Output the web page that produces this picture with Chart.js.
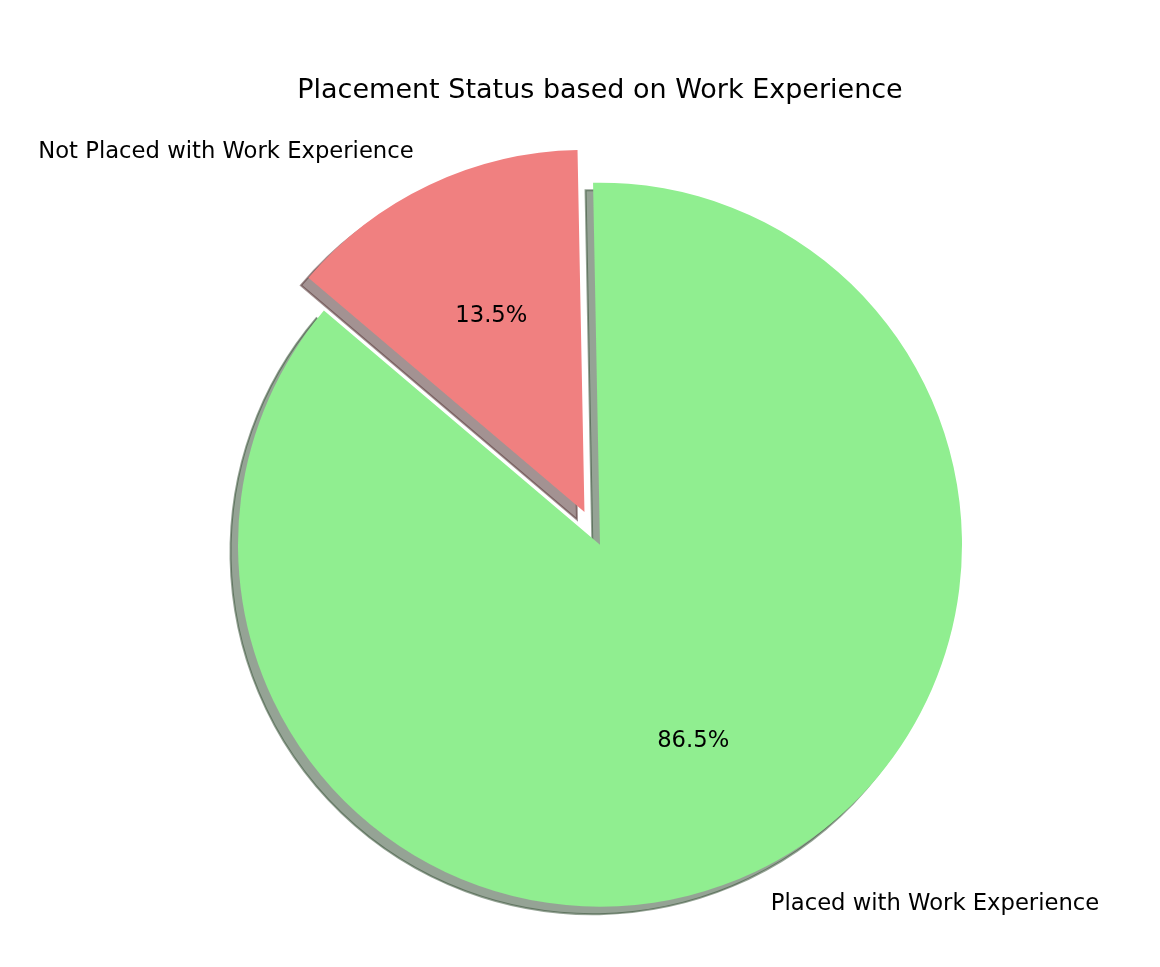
<!DOCTYPE html>
<html>
<head>
<meta charset="utf-8">
<script src="https://cdn.jsdelivr.net/npm/chart.js@4.4.0/dist/chart.umd.min.js"></script>
<style>
  html, body { margin: 0; padding: 0; background: #fff; }
  #wrap { width: 1160px; height: 967px; position: relative; }
</style>
</head>
<body>
<div id="wrap"><canvas id="pieChart"></canvas></div>
<script>
// 차트 데이터
var labels = ['Placed with Work Experience', 'Not Placed with Work Experience'];
var values = [86.5, 13.5];
var colors = ['#90EE90', '#F08080'];
var explode = [0, 0.1];

var FONT = "'DejaVu Sans', sans-serif";

// 그림자 색 (matplotlib처럼 원래색 * 0.3, alpha 0.5)
function shadowColor(hex) {
    var r = parseInt(hex.substr(1, 2), 16) * 0.3;
    var g = parseInt(hex.substr(3, 2), 16) * 0.3;
    var b = parseInt(hex.substr(5, 2), 16) * 0.3;
    return 'rgba(' + Math.round(r) + ',' + Math.round(g) + ',' + Math.round(b) + ',0.5)';
}

var piePlugin = {
    id: 'mplPie',
    afterDatasetsUpdate: function(chart) {
        // explode 조각 중심 이동
        var meta = chart.getDatasetMeta(0);
        meta.data.forEach(function(arc, i) {
            var mid = (arc.startAngle + arc.endAngle) / 2;
            var d = explode[i] * arc.outerRadius;
            arc.x += Math.cos(mid) * d;
            arc.y += Math.sin(mid) * d;
        });
    },
    beforeDatasetsDraw: function(chart) {
        var ctx = chart.ctx;
        var meta = chart.getDatasetMeta(0);
        ctx.save();
        meta.data.forEach(function(arc, i) {
            var sx = arc.x - 7.5, sy = arc.y + 7.5;
            ctx.beginPath();
            ctx.moveTo(sx, sy);
            ctx.arc(sx, sy, arc.outerRadius, arc.startAngle, arc.endAngle);
            ctx.closePath();
            ctx.fillStyle = shadowColor(colors[i]);
            ctx.strokeStyle = shadowColor(colors[i]);
            ctx.lineWidth = 2;
            ctx.fill();
            ctx.stroke();
        });
        ctx.restore();
    },
    afterDatasetsDraw: function(chart) {
        var ctx = chart.ctx;
        var meta = chart.getDatasetMeta(0);
        ctx.save();
        ctx.fillStyle = '#000';
        ctx.font = '22.7px ' + FONT;
        ctx.textBaseline = 'middle';
        meta.data.forEach(function(arc, i) {
            var mid = (arc.startAngle + arc.endAngle) / 2;
            var r = arc.outerRadius;
            var c = Math.cos(mid), s = Math.sin(mid);
            // 라벨
            ctx.textAlign = c > 0 ? 'left' : 'right';
            ctx.fillText(labels[i], arc.x + c * r * 1.1, arc.y + s * r * 1.1);
            // 퍼센트
            ctx.textAlign = 'center';
            ctx.fillText(values[i].toFixed(1) + '%', arc.x + c * r * 0.6, arc.y + s * r * 0.6);
        });
        ctx.restore();
    }
};

var ctx = document.getElementById('pieChart').getContext('2d');
var pieChart = new Chart(ctx, {
    type: 'pie',
    data: {
        labels: labels,
        datasets: [{
            data: values,
            backgroundColor: colors,
            borderWidth: 0
        }]
    },
    options: {
        responsive: true,
        maintainAspectRatio: false,
        animation: false,
        events: [],
        rotation: -1.1,
        radius: 362,
        layout: { padding: { left: 40, right: 0, top: 0, bottom: 0 } },
        plugins: {
            legend: { display: false },
            tooltip: { enabled: false },
            title: {
                display: true,
                text: 'Placement Status based on Work Experience',
                color: '#000',
                font: { family: FONT, size: 27, weight: 'normal' },
                padding: { top: 75, bottom: 15 }
            }
        }
    },
    plugins: [piePlugin]
});
</script>
</body>
</html>
